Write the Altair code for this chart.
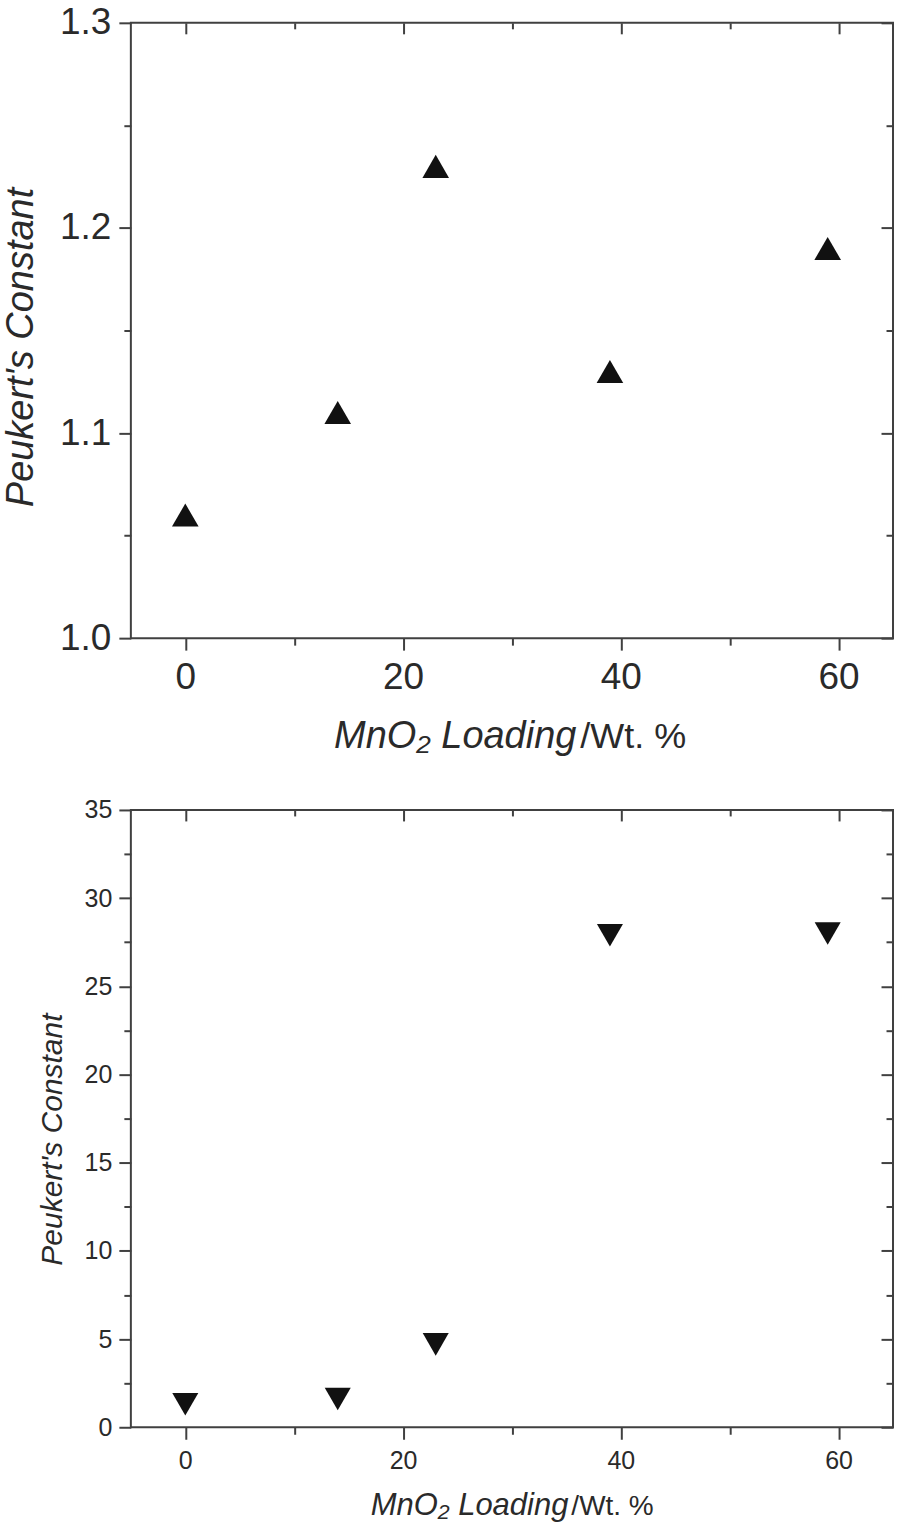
import altair as alt
import pandas as pd

# ---- data ----
loading = [0, 14, 23, 39, 59]                      # MnO2 loading / Wt. %
peukert_top = [1.06, 1.11, 1.23, 1.13, 1.19]       # upper panel (triangle up)
peukert_bottom = [1.3, 1.6, 4.7, 27.9, 28.0]       # lower panel (triangle down)

x_major = [0, 20, 40, 60]
x_minor = [10, 30, 50]
y_top_major = [1.0, 1.1, 1.2, 1.3]
y_top_minor = [1.05, 1.15, 1.25]
y_bot_major = [0, 5, 10, 15, 20, 25, 30, 35]
y_bot_minor = [2.5, 7.5, 12.5, 17.5, 22.5, 27.5, 32.5]

x_title_italic = ["MnO\u2082 Loading"]
x_title_plain = ["/Wt. %"]
y_title = ["Peukert's Constant"]

FONT = "Liberation Sans"
AX = "#404040"
TXT = "#2a2a2a"
MARK = "#111111"


def panel(vals, shape, size, W, H, ydom, ymaj, ymin, yfmt,
          lab_fs, xlab_pad, ylab_pad,
          yt_fs, yt_x, yt_y, xt_fs, xt_fs2, xt_split, xt_gap, xt_y):
    df = pd.DataFrame({"loading": loading, "k": vals})
    xs = alt.Scale(domain=[-5, 65], nice=False, zero=False)
    ys = alt.Scale(domain=ydom, nice=False, zero=False)

    common = dict(grid=False, domain=False, tickColor=AX, tickWidth=2)

    def lay(opacity, xax, yax):
        return alt.Chart(df).mark_point(
            shape=shape, filled=True, size=size, color=MARK,
            opacity=opacity, strokeWidth=0
        ).encode(
            x=alt.X("loading:Q", scale=xs, axis=xax, title=None),
            y=alt.Y("k:Q", scale=ys, axis=yax, title=None),
        )

    main = lay(
        1,
        alt.Axis(orient="bottom", values=x_major, tickSize=12, format="d",
                 labelFont=FONT, labelFontSize=lab_fs, labelColor=TXT,
                 labelPadding=xlab_pad, **common),
        alt.Axis(orient="left", values=ymaj, tickSize=12, format=yfmt,
                 labelFont=FONT, labelFontSize=lab_fs, labelColor=TXT,
                 labelPadding=ylab_pad, **common),
    )
    minor = lay(
        0,
        alt.Axis(orient="bottom", values=x_minor, tickSize=7, labels=False, **common),
        alt.Axis(orient="left", values=ymin, tickSize=7, labels=False, **common),
    )
    mirror_major = lay(
        0,
        alt.Axis(orient="bottom", offset=-H, values=x_major, tickSize=11, labels=False, **common),
        alt.Axis(orient="left", offset=-W, values=ymaj, tickSize=12, labels=False, **common),
    )
    mirror_minor = lay(
        0,
        alt.Axis(orient="bottom", offset=-H, values=x_minor, tickSize=6, labels=False, **common),
        alt.Axis(orient="left", offset=-W, values=ymin, tickSize=7, labels=False, **common),
    )

    ytitle = alt.Chart(pd.DataFrame({"t": y_title})).mark_text(
        angle=270, font=FONT, fontStyle="italic", fontSize=yt_fs, color=TXT,
        align="center", baseline="middle"
    ).encode(x=alt.value(yt_x), y=alt.value(yt_y), text="t:N")

    xt1 = alt.Chart(pd.DataFrame({"t": x_title_italic})).mark_text(
        font=FONT, fontStyle="italic", fontSize=xt_fs, color=TXT,
        align="right", baseline="alphabetic"
    ).encode(x=alt.value(xt_split), y=alt.value(xt_y), text="t:N")

    xt2 = alt.Chart(pd.DataFrame({"t": x_title_plain})).mark_text(
        font=FONT, fontSize=xt_fs2, color=TXT,
        align="left", baseline="alphabetic"
    ).encode(x=alt.value(xt_split + xt_gap), y=alt.value(xt_y), text="t:N")

    return alt.layer(main, minor, mirror_major, mirror_minor, ytitle, xt1, xt2).resolve_axis(
        x="independent", y="independent"
    ).properties(width=W, height=H)


top = panel(peukert_top, "triangle-up", 710, 763, 616, [1.0, 1.3],
            y_top_major, y_top_minor, ".1f",
            37, 9, 8,
            38, -109, 325, 38, 36, 446, 4, 726)

bottom = panel(peukert_bottom, "triangle-down", 680, 763, 618, [0, 35],
               y_bot_major, y_bot_minor, "d",
               25, 9, 7,
               30, -78, 330, 31, 28, 438, 3, 706)

chart = alt.vconcat(top, bottom, spacing=40).properties(
    padding={"left": 2, "top": 2, "right": 5, "bottom": 5},
    background="white",
).configure_view(stroke=AX, strokeWidth=2)

chart.save("out.html", embed_options={"renderer": "svg", "actions": False})
